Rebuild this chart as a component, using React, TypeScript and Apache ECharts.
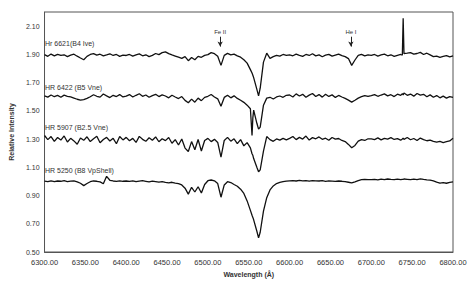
import React, { useEffect, useRef } from "react";
import * as echarts from "echarts";

// Wavelength grid (Å)
const wavelength = [
  6300, 6304, 6308, 6312, 6316, 6320, 6324, 6328, 6332, 6336, 6340, 6344, 6348, 6352, 6356, 6360, 6364, 6368, 6372, 6376, 6380, 6384, 6388, 6392, 6396,
  6400, 6404, 6408, 6412, 6416, 6420, 6424, 6428, 6432, 6436, 6440, 6444, 6448, 6452, 6456, 6460, 6464, 6468, 6472, 6476, 6480, 6484, 6488, 6492, 6496,
  6500, 6504, 6508, 6512, 6516, 6520, 6524, 6528, 6532, 6536, 6540, 6544, 6548, 6552, 6554, 6555, 6556, 6560, 6562, 6564, 6568, 6572, 6576, 6580, 6584, 6588, 6592, 6596,
  6600, 6604, 6608, 6612, 6616, 6620, 6624, 6628, 6632, 6636, 6640, 6644, 6648, 6652, 6656, 6660, 6664, 6668, 6672, 6676, 6680, 6684, 6688, 6692, 6696,
  6700, 6704, 6708, 6712, 6716, 6720, 6724, 6728, 6732, 6736, 6738, 6739, 6740, 6744, 6748, 6752, 6756, 6760, 6764, 6768, 6772, 6776, 6780, 6784, 6788, 6792, 6796, 6800,
];

const hr6621 = [
  1.898, 1.886, 1.902, 1.889, 1.900, 1.892, 1.897, 1.884, 1.895, 1.901, 1.887, 1.874, 1.862, 1.886, 1.899, 1.905, 1.894, 1.901, 1.889, 1.896, 1.904, 1.892, 1.899, 1.886, 1.894,
  1.892, 1.899, 1.887, 1.896, 1.903, 1.890, 1.897, 1.884, 1.893, 1.906, 1.898, 1.912, 1.918, 1.905, 1.896, 1.888, 1.880, 1.872, 1.884, 1.855, 1.878, 1.862, 1.886, 1.879, 1.893,
  1.898, 1.912, 1.905, 1.886, 1.822, 1.893, 1.907, 1.896, 1.902, 1.889, 1.880, 1.862, 1.838, 1.792, 1.768, 1.752, 1.735, 1.650, 1.606, 1.660, 1.845, 1.908, 1.872, 1.884, 1.893, 1.887, 1.899, 1.893,
  1.897, 1.890, 1.901, 1.893, 1.886, 1.899, 1.892, 1.904, 1.889, 1.896, 1.883, 1.894, 1.900, 1.887, 1.895, 1.902, 1.891, 1.884, 1.870, 1.822, 1.860, 1.893, 1.900, 1.889, 1.896,
  1.893, 1.899, 1.888, 1.896, 1.902, 1.890, 1.897, 1.886, 1.893, 1.899, 1.895, 2.155, 1.905, 1.908, 1.912, 1.901, 1.906, 1.914, 1.899, 1.908, 1.896, 1.884, 1.888, 1.879, 1.885, 1.891, 1.882, 1.889,
];

const hr6422 = [
  1.606, 1.597, 1.612, 1.600, 1.609, 1.596, 1.611, 1.603, 1.598, 1.590, 1.582, 1.576, 1.579, 1.588, 1.600, 1.614, 1.603, 1.597, 1.619, 1.606, 1.594, 1.610, 1.601, 1.615, 1.598,
  1.604, 1.615, 1.598, 1.610, 1.621, 1.603, 1.612, 1.596, 1.608, 1.617, 1.601, 1.613, 1.605, 1.592, 1.610, 1.598, 1.587, 1.601, 1.574, 1.557, 1.583, 1.561, 1.590, 1.572, 1.595,
  1.603, 1.616, 1.598, 1.585, 1.532, 1.595, 1.610, 1.592, 1.606, 1.588, 1.575, 1.560, 1.540, 1.515, 1.325, 1.450, 1.505, 1.410, 1.370, 1.385, 1.540, 1.590, 1.596, 1.584, 1.598, 1.605, 1.596, 1.610,
  1.612, 1.598, 1.620, 1.605, 1.617, 1.596, 1.611, 1.623, 1.601, 1.615, 1.597, 1.618, 1.602, 1.613, 1.595, 1.609, 1.598, 1.588, 1.576, 1.562, 1.575, 1.590, 1.600, 1.608, 1.602,
  1.608, 1.615, 1.603, 1.612, 1.620, 1.606, 1.614, 1.601, 1.618, 1.609, 1.622, 1.612, 1.626, 1.610, 1.619, 1.604, 1.623, 1.611, 1.617, 1.600, 1.613, 1.596, 1.608, 1.592, 1.604, 1.590, 1.601, 1.596,
];

const hr5907 = [
  1.325, 1.296, 1.318, 1.284, 1.311, 1.293, 1.322, 1.279, 1.305, 1.287, 1.263, 1.308, 1.291, 1.316, 1.282, 1.302, 1.320, 1.274, 1.297, 1.312, 1.286, 1.305, 1.267, 1.318, 1.294,
  1.312, 1.288, 1.305, 1.276, 1.319, 1.298, 1.284, 1.309, 1.292, 1.315, 1.281, 1.302, 1.289, 1.311, 1.270, 1.296, 1.258, 1.300, 1.236, 1.212, 1.282, 1.224, 1.297, 1.215, 1.290,
  1.305, 1.282, 1.298, 1.276, 1.172, 1.290, 1.312, 1.285, 1.302, 1.268, 1.296, 1.252, 1.275, 1.238, 1.196, 1.185, 1.162, 1.098, 1.068, 1.082, 1.215, 1.318, 1.296, 1.284, 1.301, 1.292, 1.305, 1.294,
  1.305, 1.318, 1.296, 1.312, 1.300, 1.321, 1.293, 1.310, 1.302, 1.315, 1.298, 1.306, 1.291, 1.311, 1.299, 1.304, 1.290, 1.282, 1.262, 1.238, 1.255, 1.285, 1.296, 1.290, 1.302,
  1.302, 1.296, 1.308, 1.294, 1.305, 1.299, 1.310, 1.297, 1.303, 1.292, 1.300, 1.306, 1.298, 1.311, 1.295, 1.304, 1.290, 1.307, 1.296, 1.288, 1.293, 1.284, 1.278, 1.283, 1.275, 1.281, 1.287, 1.305,
];

const hr5250 = [
  1.002, 0.998, 1.004, 0.999, 1.003, 1.001, 1.005, 0.999, 1.002, 1.004, 0.997, 0.987, 0.970, 0.985, 0.998, 1.003, 1.001, 0.997, 0.983, 1.036, 1.008, 1.003, 1.000, 1.004, 1.001,
  1.003, 1.000, 1.004, 0.998, 1.002, 1.005, 1.001, 0.997, 1.002, 0.999, 0.995, 0.998, 0.993, 0.990, 0.994, 0.988, 0.984, 0.975, 0.952, 0.910, 0.958, 0.925, 0.962, 0.918, 0.978,
  1.005, 1.010, 1.004, 0.985, 0.888, 0.975, 0.998, 0.992, 0.978, 0.966, 0.945, 0.915, 0.862, 0.795, 0.760, 0.745, 0.728, 0.645, 0.600, 0.640, 0.790, 0.885, 0.940, 0.968, 0.985, 0.993, 0.998, 1.002,
  1.004, 1.006, 1.003, 1.007, 1.004, 1.005, 1.002, 1.006, 1.004, 1.003, 1.005, 1.001, 1.004, 1.002, 1.000, 1.003, 1.001, 0.998, 0.994, 0.989, 0.997, 1.006, 1.012, 1.015, 1.013,
  1.012, 1.015, 1.011, 1.016, 1.013, 1.017, 1.014, 1.012, 1.016, 1.013, 1.015, 1.014, 1.017, 1.015, 1.012, 1.016, 1.013, 1.018, 1.014, 1.011, 1.009, 1.004, 0.995, 0.988, 0.992, 0.987, 0.993, 0.996,
];

const starNames = ["Hr 6621(B4 Ive)", "HR 6422 (B5 Vne)", "HR 5907 (B2.5 Vne)", "HR 5250 (B8 VpShell)"];
const spectra = [hr6621, hr6422, hr5907, hr5250];

const lineNames = ["Fe II", "He I"];
const lineWavelengths = [6515, 6675];

const FONT = 'Arial, "Liberation Sans", sans-serif';

export default function App() {
  const ref = useRef<HTMLDivElement>(null);
  useEffect(() => {
    const chart = echarts.init(ref.current!, null, { renderer: "svg" });
    const labelTops = [43, 87, 127, 170];
    chart.setOption({
      animation: false,
      backgroundColor: "#ffffff",
      grid: {
        left: 40,
        right: 21,
        top: 12,
        bottom: 38,
        show: true,
        borderColor: "#555",
        borderWidth: 1,
        backgroundColor: "transparent",
      },
      xAxis: {
        type: "value",
        min: 6300,
        max: 6800,
        interval: 50,
        name: "Wavelength (Å)",
        nameLocation: "middle",
        nameGap: 13,
        nameTextStyle: { fontSize: 7, fontWeight: "bold", color: "#333", fontFamily: FONT },
        axisLine: { show: true, lineStyle: { color: "#555", width: 1 } },
        axisTick: { show: false },
        splitLine: { show: false },
        axisLabel: {
          fontSize: 7.5,
          color: "#333",
          fontFamily: FONT,
          margin: 6,
          formatter: (v: number) => v.toFixed(2),
        },
      },
      yAxis: {
        type: "value",
        min: 0.5,
        max: 2.2,
        interval: 0.2,
        name: "Relative Intensity",
        nameLocation: "middle",
        nameGap: 21,
        nameTextStyle: { fontSize: 7, fontWeight: "bold", color: "#333", fontFamily: FONT },
        axisLine: { show: true, lineStyle: { color: "#555", width: 1 } },
        axisTick: { show: false },
        splitLine: { show: false },
        axisLabel: {
          fontSize: 7,
          color: "#333",
          fontFamily: FONT,
          margin: 5,
          showMaxLabel: false,
          formatter: (v: number) => v.toFixed(2),
        },
      },
      graphic: starNames.map((name, i) => ({
        type: "text",
        x: 45,
        y: labelTops[i],
        silent: true,
        style: {
          text: name,
          font: `7px ${FONT}`,
          fill: "#333",
          verticalAlign: "middle",
          align: "left",
        },
      })),
      series: spectra.map((vals, i) => ({
        type: "line",
        name: starNames[i],
        data: wavelength.map((w, k) => [w, vals[k]]),
        showSymbol: false,
        symbol: "none",
        silent: true,
        lineStyle: { color: "#111", width: 1.3 },
        ...(i === 0
          ? {
              markLine: {
                silent: true,
                symbol: ["none", "arrow"],
                symbolSize: [4, 5],
                lineStyle: { color: "#222", width: 1, type: "solid" },
                label: {
                  show: true,
                  position: "start",
                  formatter: "{b}",
                  fontSize: 6,
                  color: "#333",
                  fontFamily: FONT,
                  distance: 2,
                },
                data: lineNames.map((n, j) => [
                  { name: n, coord: [lineWavelengths[j], 2.025] },
                  { coord: [lineWavelengths[j], 1.955] },
                ]),
              },
            }
          : {}),
      })),
    });
    return () => chart.dispose();
  }, []);
  return (
    <div
      ref={ref}
      style={{ position: "fixed", left: 0, top: 0, width: 474, height: 290, background: "#fff" }}
    />
  );
}
